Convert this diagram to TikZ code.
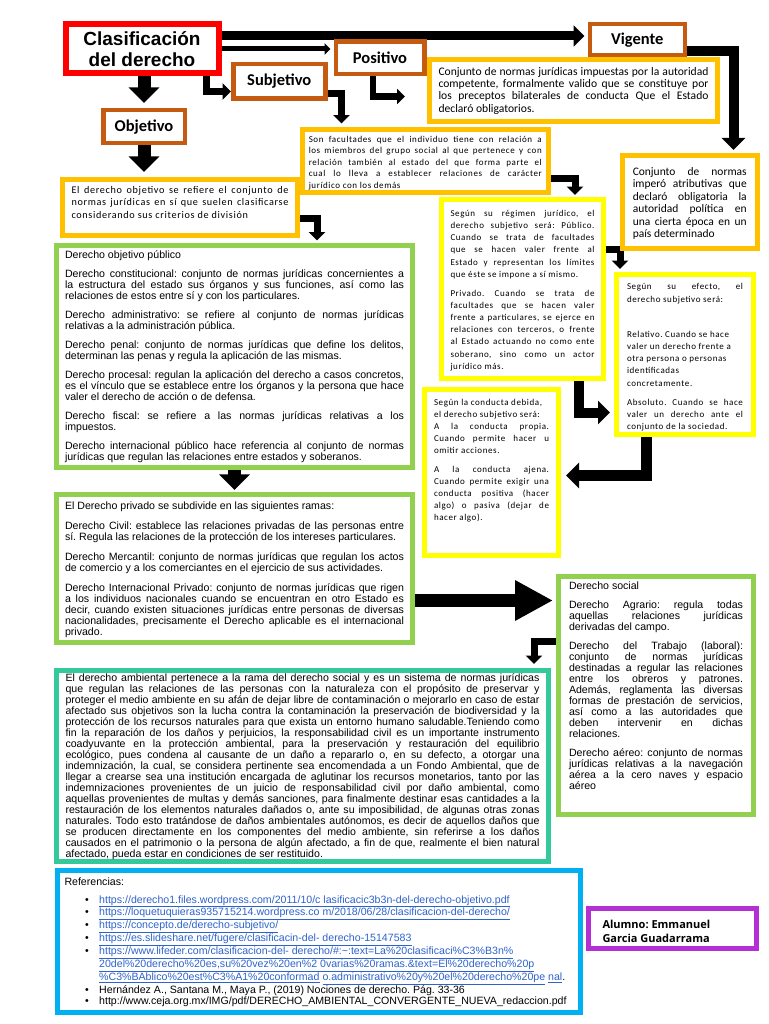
\documentclass[tikz,border=0pt]{standalone}
\usepackage{fontspec}
\setmainfont{Liberation Sans}
\newfontfamily\calibri{Carlito}
\newfontfamily\calibriesp{Carlito}[LetterSpace=6.5]
\newfontfamily\opensans{Open Sans}
\usepackage{xcolor}
\usetikzlibrary{arrows.meta,backgrounds}

\definecolor{rojo}{HTML}{FF0000}
\definecolor{cafe}{HTML}{C55A11}
\definecolor{ambar}{HTML}{FFC000}
\definecolor{amarillo}{HTML}{FFFF00}
\definecolor{verde}{HTML}{92D050}
\definecolor{turquesa}{HTML}{33C99B}
\definecolor{azul}{HTML}{00B0F0}
\definecolor{morado}{HTML}{B530D3}
\definecolor{enlace}{HTML}{2E63CC}

\tolerance=9999 \emergencystretch=10pt \hbadness=10000 \vbadness=10000
\hfuzz=3pt \vfuzz=40pt
\hyphenpenalty=10000 \exhyphenpenalty=10000
\frenchspacing

\newcommand{\bloque}[3]{\begin{minipage}[t][#2pt][t]{#1pt}#3\end{minipage}}
\newcommand{\sinencoger}{\spaceskip=\fontdimen2\font plus 3\fontdimen3\font minus 0pt\relax}
\newcommand{\arialcaja}[2][10.6]{\fontsize{#1}{11}\selectfont\sinencoger\setlength{\parskip}{#2}}
\newcommand{\espaciada}[3]{\calibriesp\fontsize{#1}{#2}\selectfont\sinencoger\setlength{\parskip}{#3}}
\newcommand{\liga}[1]{{\color{enlace}\underline{#1}}}
\newcommand{\vin}{\hspace*{20.5pt}\textbullet\hspace{10.5pt}}

\begin{document}
\begin{tikzpicture}[x=1pt, y=-1pt,
  encabezado/.style={draw=cafe, line width=4.5pt, fill=white, anchor=north west, inner sep=0pt, font=\calibri\bfseries\fontsize{16.5}{18}\selectfont},
  caja/.style={draw=#1, line width=5pt, fill=white, anchor=north west},
  flecha/.style={line width=#1, -{Triangle[length=0pt 1.2, width=0pt 2.3]}}]
  \useasboundingbox (0,0) rectangle (768,1024);
  % Título
  \node[draw=rojo, line width=6pt, fill=white, anchor=north west, minimum width=153pt, minimum height=49pt, inner sep=0pt, align=center, font=\bfseries\fontsize{19}{21}\selectfont] (titulo) at (62.5,21.5) {Clasificación\\del derecho};
  % Tipos de derecho
  \foreach \nombre/\x/\y/\ancho/\alto/\etiqueta in {vigente/587.5/22/95/31.5/Vigente, positivo/333.5/39.5/88.5/32.5/Positivo, subjetivo/231/62/92/34.5/Subjetivo, objetivo/101/108/81.5/33/Objetivo}
    \node[encabezado, minimum width=\ancho pt, minimum height=\alto pt] (\nombre) at (\x,\y) {\etiqueta};
  % Definiciones
  \node[caja=ambar, inner xsep=9pt, inner ysep=7.2pt] (defpositivo) at (427,57.5) {\bloque{270}{47.6}{\calibri\fontsize{11.6}{12.3}\selectfont Conjunto de normas jurídicas impuestas por la autoridad\linebreak competente, formalmente valido que se constituye por\linebreak los preceptos bilaterales de conducta Que el Estado\linebreak declaró obligatorios.}};
  \node[caja=ambar, inner xsep=6.75pt, inner ysep=5.8pt] (defsubjetivo) at (299.5,127.5) {\bloque{233}{50.9}{\espaciada{9}{11.6}{0pt}Son facultades que el individuo tiene con relación a\linebreak los miembros del grupo social al que pertenece y con\linebreak relación también al estado del que forma parte el\linebreak cual lo lleva a establecer relaciones de carácter\linebreak jurídico con los demás}};
  \node[caja=ambar, inner xsep=9pt, inner ysep=6.9pt] (defobjetivo) at (60,177) {\bloque{217}{42.2}{\espaciada{10.2}{12.3}{0pt}El derecho objetivo se refiere el conjunto de\linebreak normas jurídicas en sí que suelen clasificarse\linebreak considerando sus criterios de división}};
  \node[caja=ambar, inner xsep=10.25pt, inner ysep=12.1pt] (defvigente) at (620,153) {\bloque{114}{68.8}{\calibri\fontsize{11.5}{12.4}\selectfont Conjunto de normas\linebreak imperó atributivas que\linebreak declaró obligatoria la\linebreak autoridad política en\linebreak una cierta época en un\linebreak país determinado}};
  % Derecho subjetivo
  \node[caja=amarillo, inner xsep=9pt, inner ysep=10.9pt] (regimen) at (439,197) {\bloque{144}{157.2}{\espaciada{9}{12.1}{7.3pt}Según su régimen jurídico, el\linebreak derecho subjetivo será: Público.\linebreak Cuando se trata de facultades\linebreak que se hacen valer frente al\linebreak Estado y representan los límites\linebreak que éste se impone a sí mismo.\par
    Privado. Cuando se trata de\linebreak facultades que se hacen valer\linebreak frente a particulares, se ejerce en\linebreak relaciones con terceros, o frente\linebreak al Estado actuando no como ente\linebreak soberano, sino como un actor\linebreak jurídico más.}};
  \node[caja=amarillo, inner xsep=10.5pt, inner ysep=9.2pt] (efecto) at (614,272) {\bloque{116}{141.6}{\espaciada{9}{12.1}{7.5pt}Según su efecto, el\linebreak derecho subjetivo será:\par\vspace{16pt}
    Relativo. Cuando se hace\\ valer un derecho frente a\\ otra persona o personas\\ identificadas\\ concretamente.\par
    Absoluto. Cuando se hace valer un derecho ante el conjunto de la sociedad.}};
  \node[caja=amarillo, inner xsep=9.5pt, inner ysep=9.7pt] (conducta) at (422,387) {\bloque{115}{146.6}{\espaciada{9}{12.1}{6.4pt}Según la conducta debida,\\ el derecho subjetivo será:\\ A la conducta propia.\linebreak Cuando permite hacer u\linebreak omitir acciones.\par
    A la conducta ajena.\linebreak Cuando permite exigir una\linebreak conducta positiva (hacer\linebreak algo) o pasiva (dejar de\linebreak hacer algo).}};
  % Ramas del derecho
  \node[caja=verde, inner xsep=8.5pt, inner ysep=5.7pt] (publico) at (54,242.5) {\bloque{339}{211.1}{\arialcaja{8pt}Derecho objetivo público\par
    Derecho constitucional: conjunto de normas jurídicas concernientes a la estructura del estado sus órganos y sus funciones, así como las relaciones de estos entre sí y con los particulares.\par
    Derecho administrativo: se refiere al conjunto de normas jurídicas relativas a la administración pública.\par
    Derecho penal: conjunto de normas jurídicas que define los delitos, determinan las penas y regula la aplicación de las mismas.\par
    Derecho procesal: regulan la aplicación del derecho a casos concretos, es el vínculo que se establece entre los órganos y la persona que hace valer el derecho de acción o de defensa.\par
    Derecho fiscal: se refiere a las normas jurídicas relativas a los impuestos.\par
    Derecho internacional público hace referencia al conjunto de normas jurídicas que regulan las relaciones entre estados y soberanos.}};
  \node[caja=verde, inner xsep=8.5pt, inner ysep=6.9pt] (privado) at (54,492) {\bloque{339}{134.2}{\arialcaja{9pt}El Derecho privado se subdivide en las siguientes ramas:\par
    Derecho Civil: establece las relaciones privadas de las personas entre sí. Regula las relaciones de la protección de los intereses particulares.\par
    Derecho Mercantil: conjunto de normas jurídicas que regulan los actos de comercio y a los comerciantes en el ejercicio de sus actividades.\par
    Derecho Internacional Privado: conjunto de normas jurídicas que rigen a los individuos nacionales cuando se encuentran en otro Estado es decir, cuando existen situaciones jurídicas entre personas de diversas nacionalidades, precisamente el Derecho aplicable es el internacional privado.}};
  \node[caja=verde, inner xsep=10.5pt, inner ysep=5.7pt] (social) at (556,574) {\bloque{174}{226.6}{\arialcaja{8pt}Derecho social\par
    Derecho Agrario: regula todas\linebreak aquellas relaciones jurídicas\linebreak derivadas del campo.\par
    Derecho del Trabajo (laboral):\linebreak conjunto de normas jurídicas\linebreak destinadas a regular las relaciones\linebreak entre los obreros y patrones.\linebreak Además, reglamenta las diversas\linebreak formas de prestación de servicios,\linebreak así como a las autoridades que\linebreak deben intervenir en dichas\linebreak relaciones.\par
    Derecho aéreo: conjunto de normas\linebreak jurídicas relativas a la navegación\linebreak aérea a la cero naves y espacio\linebreak aéreo}};
  \node[caja=turquesa, inner xsep=9pt, inner ysep=2.9pt] (ambiental) at (54,668) {\bloque{474}{184.7}{\arialcaja{0pt}El derecho ambiental pertenece a la rama del derecho social y es un sistema de normas jurídicas\linebreak
    que regulan las relaciones de las personas con la naturaleza con el propósito de preservar y\linebreak
    proteger el medio ambiente en su afán de dejar libre de contaminación o mejorarlo en caso de estar\linebreak
    afectado sus objetivos son la lucha contra la contaminación la preservación de biodiversidad y la\linebreak
    protección de los recursos naturales para que exista un entorno humano saludable.Teniendo como\linebreak
    fin la reparación de los daños y perjuicios, la responsabilidad civil es un importante instrumento\linebreak
    coadyuvante en la protección ambiental, para la preservación y restauración del equilibrio\linebreak
    ecológico, pues condena al causante de un daño a repararlo o, en su defecto, a otorgar una\linebreak
    indemnización, la cual, se considera pertinente sea encomendada a un Fondo Ambiental, que de\linebreak
    llegar a crearse sea una institución encargada de aglutinar los recursos monetarios, tanto por las\linebreak
    indemnizaciones provenientes de un juicio de responsabilidad civil por daño ambiental, como\linebreak
    aquellas provenientes de multas y demás sanciones, para finalmente destinar esas cantidades a la\linebreak
    restauración de los elementos naturales dañados o, ante su imposibilidad, de algunas otras zonas\linebreak
    naturales. Todo esto tratándose de daños ambientales autónomos, es decir de aquellos daños que\linebreak
    se producen directamente en los componentes del medio ambiente, sin referirse a los daños\linebreak
    causados en el patrimonio o la persona de algún afectado, a fin de que, realmente el bien natural\linebreak
    afectado, pueda estar en condiciones de ser restituido.}};
  % Referencias y alumno
  \node[caja=azul, inner xsep=7.5pt, inner ysep=6.9pt] (referencias) at (54.5,868) {\bloque{508}{127.7}{\fontsize{10.6}{11.6}\selectfont Referencias:\par\vspace{6.4pt}
    \vin\liga{https://derecho1.files.wordpress.com/2011/10/c lasificacic3b3n-del-derecho-objetivo.pdf}\par
    \vin\liga{https://loquetuquieras935715214.wordpress.co m/2018/06/28/clasificacion-del-derecho/}\par
    \vin\liga{https://concepto.de/derecho-subjetivo/}\par
    \vin\liga{https://es.slideshare.net/fugere/clasificacin-del- derecho-15147583}\par
    \vin\liga{https://www.lifeder.com/clasificacion-del- derecho/\#:\textasciitilde:text=La\%20clasificaci\%C3\%B3n\%}\par
    \hspace*{34.7pt}\liga{20del\%20derecho\%20es,su\%20vez\%20en\%2 0varias\%20ramas.\&text=El\%20derecho\%20p}\par
    \hspace*{34.7pt}\liga{\%C3\%BAblico\%20est\%C3\%A1\%20conformad} \liga{o.administrativo\%20y\%20el\%20derecho\%20pe} \liga{nal}.\par
    \vin Hernández A., Santana M., Maya P., (2019) Nociones de derecho. Pág. 33-36\par
    \vin http://www.ceja.org.mx/IMG/pdf/DERECHO\_AMBIENTAL\_CONVERGENTE\_NUEVA\_redaccion.pdf}};
  \node[caja=morado, inner xsep=14pt, inner ysep=12.1pt] (alumno) at (586,906) {\bloque{140}{15.8}{\opensans\bfseries\fontsize{11}{13.5}\selectfont Alumno: Emmanuel\\ Garcia Guadarrama}};
  % Flechas
  \begin{scope}[on background layer]
    \fill[white] (0,0) rectangle (768,1024);
    \draw[flecha=9pt, shorten >=3pt] ([yshift=13pt]titulo.east) -- ([yshift=13pt]titulo.east -| vigente.west);
    \draw[flecha=5pt, shorten >=3pt] (titulo.east) -- (titulo.east -| positivo.west);
    \draw[flecha=7pt] ([xshift=-15pt]titulo.south east) |- ([yshift=-10pt]subjetivo.west);
    \draw[flecha=13pt, shorten >=5pt] (titulo.south -| objetivo.north) -- (objetivo.north);
    \draw[flecha=6.5pt, shorten >=22pt] ([xshift=-7pt]positivo.south) |- ([yshift=-5.5pt]defpositivo.west);
    \draw[flecha=7pt, shorten >=4pt] ([yshift=-12pt]subjetivo.east) -| ([xshift=42pt]defsubjetivo.north west);
    \draw[flecha=10pt, shorten >=3pt] ([yshift=-11.5pt]vigente.east) -| ([xshift=-26pt]defvigente.north east);
    \draw[flecha=13pt, shorten >=5pt] (objetivo.south) -- (objetivo.south |- defobjetivo.north);
    \draw[flecha=7pt, shorten >=2pt] ([yshift=-11pt]defobjetivo.east) -| ([xshift=263pt]publico.north west);
    \draw[flecha=7pt, shorten >=2pt] ([yshift=-17pt]defsubjetivo.east) -| ([xshift=-31pt]regimen.north east);
    \draw[flecha=7pt, shorten >=3pt] ([yshift=40pt]regimen.east) -| ([xshift=6pt]efecto.north west);
    \draw[flecha=10pt, shorten >=4pt] ([xshift=-27pt]regimen.south east) |- ([yshift=-58pt]efecto.west);
    \draw[flecha=11pt, shorten >=5pt] ([xshift=32pt]efecto.south west) |- ([yshift=-3pt]conducta.east);
    \draw[flecha=13pt, shorten >=2pt] (publico.south) -- (publico.south |- privado.north);
    \draw[line width=13pt, -{Triangle[length=38pt, width=38pt]}, shorten >=3pt] ([yshift=-32pt]privado.east) -- ([yshift=-32pt]privado.east -| social.west);
    \draw[flecha=7pt, shorten >=4pt] ([yshift=54pt]social.west) -| ([xshift=-17pt]ambiental.north east);
  \end{scope}
\end{tikzpicture}
\end{document}
